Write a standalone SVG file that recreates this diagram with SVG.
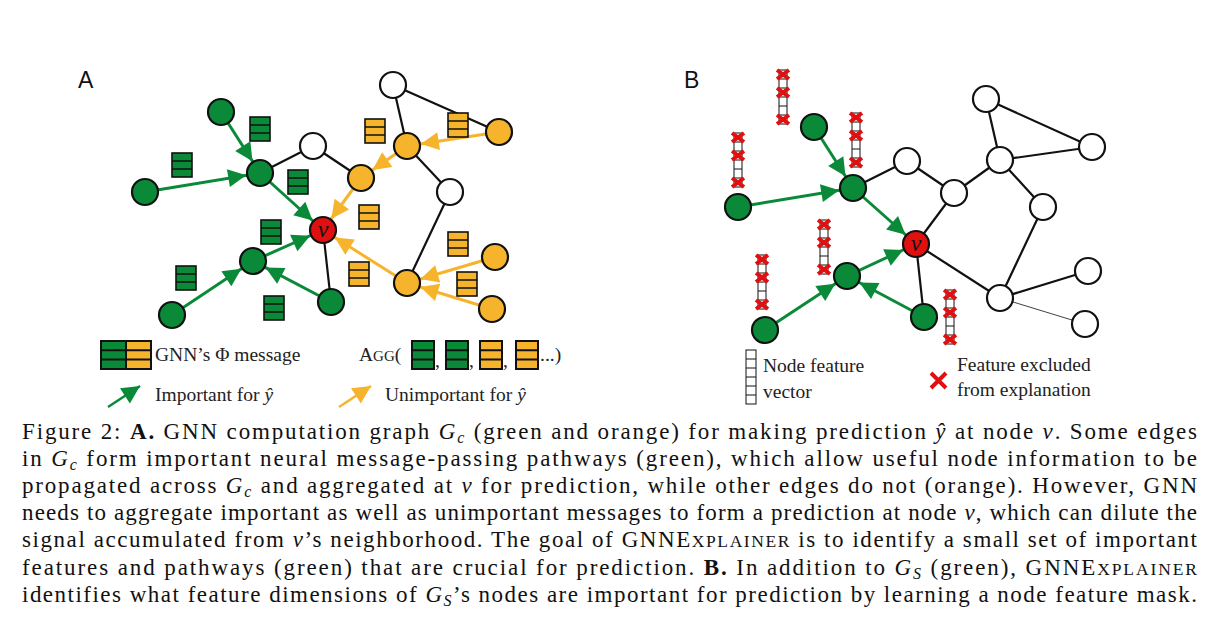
<svg xmlns="http://www.w3.org/2000/svg" width="1216" height="632" viewBox="0 0 1216 632">
<style>
.n{stroke:#111;stroke-width:2.2}
.g{fill:#0a8a38}.y{fill:#f6b42c}.w{fill:#fff}.r{fill:#e01010}
.e{stroke:#111;stroke-width:2.2;fill:none}
.ag{stroke:#0a8a38;stroke-width:3;marker-end:url(#ha)}
.ay{stroke:#f6b42c;stroke-width:3;marker-end:url(#hy)}
.t{font-family:"Liberation Serif","Times New Roman",serif;font-size:19.5px;fill:#222}
.c{font-family:"Liberation Serif","Times New Roman",serif;font-size:23px;fill:#111}
.lab{font-family:"Liberation Sans",Arial,sans-serif;font-size:23px;fill:#111}
.vt{font-family:"Liberation Serif",serif;font-style:italic;font-size:24px;fill:#111}
.x{stroke:#e01010;stroke-width:4;stroke-linecap:butt}
</style>
<defs>
<marker id="ha" markerUnits="userSpaceOnUse" markerWidth="40" markerHeight="20" refX="32" refY="9" orient="auto" overflow="visible"><path d="M0,0 L18,9 L0,18 z" fill="#0a8a38"/></marker>
<marker id="hy" markerUnits="userSpaceOnUse" markerWidth="40" markerHeight="20" refX="32" refY="9" orient="auto" overflow="visible"><path d="M0,0 L18,9 L0,18 z" fill="#f6b42c"/></marker>
<marker id="hl" markerUnits="userSpaceOnUse" markerWidth="40" markerHeight="20" refX="18" refY="9" orient="auto" overflow="visible"><path d="M0,0 L18,9 L0,18 z" fill="context-stroke"/></marker>
<g id="mg"><rect x="0" y="0" width="20" height="24" fill="#0a8a38" stroke="#111" stroke-width="1.6"/><path d="M0,8H20M0,16H20" stroke="#111" stroke-width="1.6"/></g>
<g id="my"><rect x="0" y="0" width="20" height="24" fill="#f6b42c" stroke="#111" stroke-width="1.6"/><path d="M0,8H20M0,16H20" stroke="#111" stroke-width="1.6"/></g>
<g id="fv"><rect x="0" y="0" width="8" height="54" fill="#fff" stroke="#111" stroke-width="1"/><path d="M0,9H8M0,18H8M0,27H8M0,36H8M0,45H8" stroke="#111" stroke-width="1"/><path class="x" d="M-2,0L10,9M10,0L-2,9M-2,18L10,27M10,18L-2,27M-2,45L10,54M10,45L-2,54"/></g>
</defs>

<text class="lab" x="78" y="88">A</text>
<text class="lab" x="684" y="88">B</text>

<g id="connectors">
<line class="e" x1="260" y1="173" x2="313" y2="146"/>
<line class="e" x1="313" y1="146" x2="361" y2="178"/>
<line class="e" x1="407" y1="146" x2="393" y2="85"/>
<line class="e" x1="393" y1="85" x2="499" y2="132"/>
<line class="e" x1="407" y1="146" x2="450" y2="192"/>
<line class="e" x1="450" y1="192" x2="407" y2="283"/>
<line class="e" x1="323" y1="230" x2="331" y2="302"/>
<line class="ag" x1="221" y1="112" x2="260" y2="173"/>
<line class="ag" x1="145" y1="192" x2="260" y2="173"/>
<line class="ag" x1="260" y1="173" x2="323" y2="230"/>
<line class="ag" x1="253" y1="261" x2="323" y2="230"/>
<line class="ag" x1="172" y1="315" x2="253" y2="261"/>
<line class="ag" x1="331" y1="302" x2="253" y2="261"/>
<line class="ay" x1="361" y1="178" x2="323" y2="230"/>
<line class="ay" x1="407" y1="146" x2="361" y2="178"/>
<line class="ay" x1="499" y1="132" x2="407" y2="146"/>
<line class="ay" x1="407" y1="283" x2="323" y2="230"/>
<line class="ay" x1="495" y1="257" x2="407" y2="283"/>
<line class="ay" x1="492" y1="309" x2="407" y2="283"/>
<line class="e" x1="853" y1="188" x2="907" y2="161"/>
<line class="e" x1="907" y1="161" x2="954" y2="193"/>
<line class="e" x1="954" y1="193" x2="916" y2="244"/>
<line class="e" x1="954" y1="193" x2="1000" y2="160"/>
<line class="e" x1="1000" y1="160" x2="986" y2="99"/>
<line class="e" x1="986" y1="99" x2="1092" y2="147"/>
<line class="e" x1="1000" y1="160" x2="1092" y2="147"/>
<line class="e" x1="1000" y1="160" x2="1043" y2="207"/>
<line class="e" x1="1043" y1="207" x2="1000" y2="298"/>
<line class="e" x1="916" y1="244" x2="1000" y2="298"/>
<line class="e" x1="1000" y1="298" x2="1088" y2="271"/>
<line x1="1000" y1="298" x2="1085" y2="324" stroke="#111" stroke-width="0.8"/>
<line class="e" x1="916" y1="244" x2="924" y2="317"/>
<line class="ag" x1="814" y1="127" x2="853" y2="188"/>
<line class="ag" x1="738" y1="207" x2="853" y2="188"/>
<line class="ag" x1="853" y1="188" x2="916" y2="244"/>
<line class="ag" x1="847" y1="276" x2="916" y2="244"/>
<line class="ag" x1="765" y1="330" x2="847" y2="276"/>
<line class="ag" x1="924" y1="317" x2="847" y2="276"/>
</g>

<g id="nodesA">
<circle id="a-g1" class="n g" cx="221" cy="112" r="13"/>
<circle id="a-g2" class="n g" cx="260" cy="173" r="13"/>
<circle id="a-g3" class="n g" cx="145" cy="192" r="13"/>
<circle id="a-w1" class="n w" cx="313" cy="146" r="13"/>
<circle id="a-y1" class="n y" cx="361" cy="178" r="13"/>
<circle id="a-y2" class="n y" cx="407" cy="146" r="13"/>
<circle id="a-w2" class="n w" cx="393" cy="85" r="13"/>
<circle id="a-y3" class="n y" cx="499" cy="132" r="13"/>
<circle id="a-w3" class="n w" cx="450" cy="192" r="13"/>
<circle id="a-g4" class="n g" cx="253" cy="261" r="13"/>
<circle id="a-g5" class="n g" cx="172" cy="315" r="13"/>
<circle id="a-g6" class="n g" cx="331" cy="302" r="13"/>
<circle id="a-y4" class="n y" cx="407" cy="283" r="13"/>
<circle id="a-y5" class="n y" cx="495" cy="257" r="13"/>
<circle id="a-y6" class="n y" cx="492" cy="309" r="13"/>
<g id="a-v"><circle class="n r" cx="323" cy="230" r="13"/><text class="vt" x="323" y="237" text-anchor="middle">v</text></g>
</g>

<g id="messages">
<use href="#mg" x="250" y="117"/>
<use href="#mg" x="172" y="153"/>
<use href="#mg" x="288" y="170"/>
<use href="#mg" x="261" y="220"/>
<use href="#mg" x="176" y="266"/>
<use href="#mg" x="264" y="296"/>
<use href="#my" x="365" y="119"/>
<use href="#my" x="448" y="113"/>
<use href="#my" x="359" y="205"/>
<use href="#my" x="448" y="232"/>
<use href="#my" x="349" y="262"/>
<use href="#my" x="457" y="272"/>
</g>

<g id="legendA">
<rect x="101" y="341" width="25" height="28" fill="#0a8a38" stroke="#111" stroke-width="2"/>
<rect x="126" y="341" width="25" height="28" fill="#f6b42c" stroke="#111" stroke-width="2"/>
<path d="M101,350.3H151M101,359.6H151" stroke="#111" stroke-width="2"/>
<text class="t" x="155" y="361">GNN’s Φ message</text>
<text class="t" x="359" y="361">A<tspan font-size="15">GG</tspan>(</text>
<g><rect x="412" y="341" width="22" height="28" fill="#0a8a38" stroke="#111" stroke-width="2"/><path d="M412,350.3H434M412,359.6H434" stroke="#111" stroke-width="2"/></g>
<text class="t" x="435" y="367">,</text>
<g><rect x="446" y="341" width="22" height="28" fill="#0a8a38" stroke="#111" stroke-width="2"/><path d="M446,350.3H468M446,359.6H468" stroke="#111" stroke-width="2"/></g>
<text class="t" x="469" y="367">,</text>
<g><rect x="480" y="341" width="22" height="28" fill="#f6b42c" stroke="#111" stroke-width="2"/><path d="M480,350.3H502M480,359.6H502" stroke="#111" stroke-width="2"/></g>
<text class="t" x="503" y="367">,</text>
<g><rect x="516" y="341" width="22" height="28" fill="#f6b42c" stroke="#111" stroke-width="2"/><path d="M516,350.3H538M516,359.6H538" stroke="#111" stroke-width="2"/></g>
<text class="t" x="540" y="361">...)</text>
<line x1="108" y1="407" x2="140" y2="386" stroke="#0a8a38" stroke-width="2.5" marker-end="url(#hl)"/>
<text class="t" x="155" y="401">Important for <tspan font-style="italic">ŷ</tspan></text>
<line x1="339" y1="407" x2="371" y2="386" stroke="#f6b42c" stroke-width="2.5" marker-end="url(#hl)"/>
<text class="t" x="385" y="401">Unimportant for <tspan font-style="italic">ŷ</tspan></text>
</g>

<g id="nodesB">
<circle id="b-g1" class="n g" cx="814" cy="127" r="13"/>
<circle id="b-g2" class="n g" cx="853" cy="188" r="13"/>
<circle id="b-g3" class="n g" cx="738" cy="207" r="13"/>
<circle id="b-w1" class="n w" cx="907" cy="161" r="13"/>
<circle id="b-w2" class="n w" cx="954" cy="193" r="13"/>
<circle id="b-w3" class="n w" cx="1000" cy="160" r="13"/>
<circle id="b-w4" class="n w" cx="986" cy="99" r="13"/>
<circle id="b-w5" class="n w" cx="1092" cy="147" r="13"/>
<circle id="b-w6" class="n w" cx="1043" cy="207" r="13"/>
<circle id="b-w7" class="n w" cx="1000" cy="298" r="13"/>
<circle id="b-w8" class="n w" cx="1088" cy="271" r="13"/>
<circle id="b-w9" class="n w" cx="1085" cy="324" r="13"/>
<circle id="b-g4" class="n g" cx="847" cy="276" r="13"/>
<circle id="b-g5" class="n g" cx="765" cy="330" r="13"/>
<circle id="b-g6" class="n g" cx="924" cy="317" r="13"/>
<g id="b-v"><circle class="n r" cx="916" cy="244" r="13"/><text class="vt" x="916" y="251" text-anchor="middle">v</text></g>
</g>

<g id="features">
<use href="#fv" x="779" y="70"/>
<use href="#fv" x="852" y="113"/>
<use href="#fv" x="734" y="133"/>
<use href="#fv" x="820" y="220"/>
<use href="#fv" x="758" y="255"/>
<use href="#fv" x="946" y="290"/>
</g>

<g id="legendB">
<rect x="746" y="350" width="10" height="54" fill="#fff" stroke="#111" stroke-width="1"/>
<path d="M746,359H756M746,368H756M746,377H756M746,386H756M746,395H756" stroke="#111" stroke-width="1"/>
<text class="t" x="763" y="372">Node feature</text>
<text class="t" x="763" y="398">vector</text>
<path class="x" d="M931,373L946,388M946,373L931,388"/>
<text class="t" x="957" y="371">Feature excluded</text>
<text class="t" x="957" y="396">from explanation</text>
</g>

<g id="caption">
<text class="c" x="22" y="439" textLength="1175" lengthAdjust="spacing">Figure 2: <tspan font-weight="bold">A.</tspan> GNN computation graph <tspan font-style="italic">G</tspan><tspan font-style="italic" font-size="16" dy="4">c</tspan><tspan dy="-4"> (green and orange) for making prediction </tspan><tspan font-style="italic">ŷ</tspan> at node <tspan font-style="italic">v</tspan>. Some edges</text>
<text class="c" x="22" y="466" textLength="1175" lengthAdjust="spacing">in <tspan font-style="italic">G</tspan><tspan font-style="italic" font-size="16" dy="4">c</tspan><tspan dy="-4"> form important neural message-passing pathways (green), which allow useful node information to be</tspan></text>
<text class="c" x="22" y="493" textLength="1175" lengthAdjust="spacing">propagated across <tspan font-style="italic">G</tspan><tspan font-style="italic" font-size="16" dy="4">c</tspan><tspan dy="-4"> and aggregated at </tspan><tspan font-style="italic">v</tspan> for prediction, while other edges do not (orange). However, GNN</text>
<text class="c" x="22" y="520" textLength="1175" lengthAdjust="spacing">needs to aggregate important as well as unimportant messages to form a prediction at node <tspan font-style="italic">v</tspan>, which can dilute the</text>
<text class="c" x="22" y="547" textLength="1175" lengthAdjust="spacing">signal accumulated from <tspan font-style="italic">v</tspan>’s neighborhood. The goal of GNNE<tspan font-size="17.5">XPLAINER</tspan> is to identify a small set of important</text>
<text class="c" x="22" y="575" textLength="1175" lengthAdjust="spacing">features and pathways (green) that are crucial for prediction. <tspan font-weight="bold">B.</tspan> In addition to <tspan font-style="italic">G</tspan><tspan font-style="italic" font-size="16" dy="4">S</tspan><tspan dy="-4"> (green), GNNE</tspan><tspan font-size="17.5">XPLAINER</tspan></text>
<text class="c" x="22" y="602" textLength="1175" lengthAdjust="spacing">identifies what feature dimensions of <tspan font-style="italic">G</tspan><tspan font-style="italic" font-size="16" dy="4">S</tspan><tspan dy="-4">’s nodes are important for prediction by learning a node feature mask.</tspan></text>
</g>
</svg>
